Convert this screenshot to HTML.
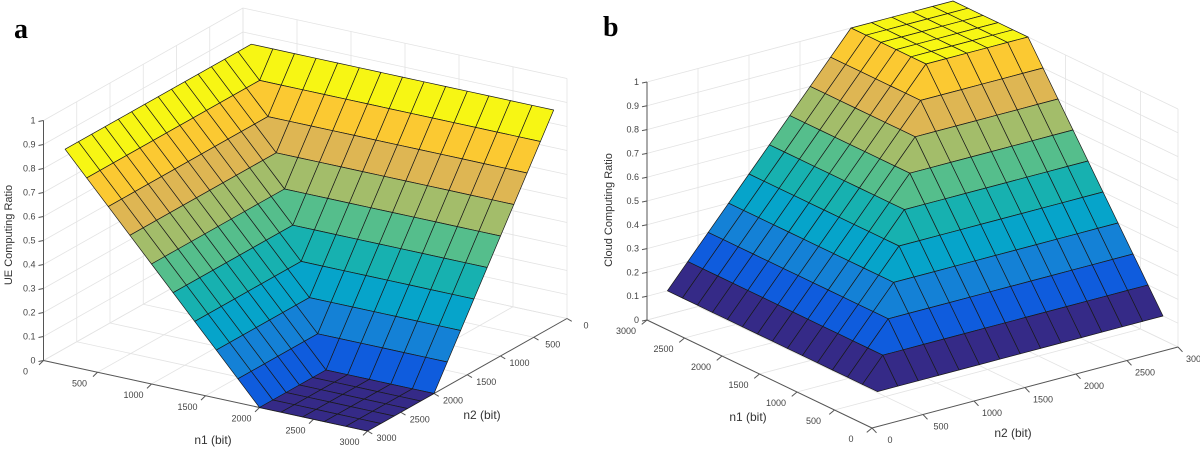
<!DOCTYPE html>
<html><head><meta charset="utf-8"><style>
html,body{margin:0;padding:0;background:#fff;}
svg{display:block;font-family:"Liberation Sans",sans-serif;}
</style></head><body>
<svg id="fig" width="1200" height="449" viewBox="0 0 1200 449" xmlns="http://www.w3.org/2000/svg">
<text x="14" y="38" font-family="Liberation Serif,serif" font-weight="bold" font-size="28">a</text>
<text x="603" y="36" font-family="Liberation Serif,serif" font-weight="bold" font-size="28">b</text>
<g id="ga"></g>
<g id="gb"></g>
</svg>
<script>
// grid values (bits)
const nValues = [200,400,600,800,1000,1200,1400,1600,1800,2000,2200,2400,2600,2800,3000];
// UE ratio profile vs min(n1,n2) index
const ueProfile = [0.9,0.8,0.7,0.6,0.5,0.4,0.3,0.2,0.1,0,0,0,0,0,0];
// Cloud ratio profile vs min(n1,n2) index
const cloudProfile = [0.1,0.2,0.3,0.4,0.5,0.6,0.7,0.8,0.9,1,1,1,1,1,1];
const axisTicks = [0,500,1000,1500,2000,2500,3000];
const zTicks = [0,0.1,0.2,0.3,0.4,0.5,0.6,0.7,0.8,0.9,1];
const parula = ['#352a87','#0f5cdd','#1481d6','#06a4ca','#17b1b0','#55be8c','#a3bd6a','#deb653','#fbc932','#f7f614'];

const NS='http://www.w3.org/2000/svg';
function mk(parent,tag,attrs){const e=document.createElementNS(NS,tag);for(const k in attrs)e.setAttribute(k,attrs[k]);parent.appendChild(e);return e;}

function projA(n1,n2,z){return [243+n1*0.108-n2*0.0665, 248+n1*0.0235+n2*0.0375-240*z];}
function projB(n1,n2,z){return [872-n1*0.075+n2*0.102, 428-n1*0.036-n2*0.027-238*z];}

function line(g,P,a,b,stroke,w,name){
  const p=P(...a),q=P(...b);
  const l=mk(g,'line',{x1:p[0],y1:p[1],x2:q[0],y2:q[1],stroke:stroke,'stroke-width':w});
  
  
}
function label(g,x,y,txt,anchor,size,name,fill){
  const t=mk(g,'text',{x:x,y:y,'text-anchor':anchor,'font-size':size,fill:fill||'#444'});
  t.textContent=txt;
  
  
  return t;
}

function drawChart(g,P,cfg,profile,useMax,zlo,zhi){
  const gc='#e3e3e3';
  for(const z of zTicks){
    line(g,P,[cfg.w1a[0],cfg.w1a[1],z],[cfg.corner[0],cfg.corner[1],z],gc,0.8,'wall-gridline');
    line(g,P,[cfg.corner[0],cfg.corner[1],z],[cfg.w2b[0],cfg.w2b[1],z],gc,0.8,'wall-gridline');
  }
  for(const t of axisTicks){
    line(g,P,[cfg.w1a[0],t,0],[cfg.w1a[0],t,1],gc,0.8,'wall-gridline');
    line(g,P,[t,cfg.w2b[1],0],[t,cfg.w2b[1],1],gc,0.8,'wall-gridline');
    line(g,P,[t,0,0],[t,3000,0],gc,0.8,'floor-gridline');
    line(g,P,[0,t,0],[3000,t,0],gc,0.8,'floor-gridline');
  }
  const ac='#555';
  line(g,P,[cfg.zax[0],cfg.zax[1],0],[cfg.zax[0],cfg.zax[1],1],ac,1,'z-axis');
  line(g,P,[0,cfg.n1y,0],[3000,cfg.n1y,0],ac,1,'n1-axis');
  line(g,P,[cfg.n2x,0,0],[cfg.n2x,3000,0],ac,1,'n2-axis');
  for(const z of zTicks){
    const p=P(cfg.zax[0],cfg.zax[1],z);
    const l=mk(g,'line',{x1:p[0]-5,y1:p[1]+1,x2:p[0],y2:p[1],stroke:ac,'stroke-width':1});
    
    
    label(g,p[0]-8,p[1]+3,String(z),'end',9,'z-tick-label');
  }
  for(const t of axisTicks){
    const p=P(t,cfg.n1y,0);
    const l=mk(g,'line',{x1:p[0],y1:p[1],x2:p[0]+cfg.n1off[0]*0.25,y2:p[1]+cfg.n1off[1]*0.4,stroke:ac,'stroke-width':1});
    
    
    label(g,p[0]+cfg.n1off[0],p[1]+cfg.n1off[1]+3,String(t),'middle',9,'n1-tick-label');
    const q=P(cfg.n2x,t,0);
    const l2=mk(g,'line',{x1:q[0],y1:q[1],x2:q[0]+cfg.n2off[0]*0.25,y2:q[1]+cfg.n2off[1]*0.4,stroke:ac,'stroke-width':1});
    
    
    label(g,q[0]+cfg.n2off[0],q[1]+cfg.n2off[1]+3,String(t),'middle',9,'n2-tick-label');
  }
  const cells=[];
  const N=nValues.length;
  const zf=(i,j)=>profile[Math.min(i,j)];
  for(let i=0;i<N-1;i++)for(let j=0;j<N-1;j++){
    const zs=[zf(i,j),zf(i+1,j),zf(i+1,j+1),zf(i,j+1)];
    cells.push({i,j,zs,d:nValues[i]+nValues[j]});
  }
  cells.sort((a,b)=>cfg.farFirst*(a.d-b.d));
  for(const c of cells){
    const idx=[[c.i,c.j],[c.i+1,c.j],[c.i+1,c.j+1],[c.i,c.j+1]];
    const pts=idx.map((ij,k)=>P(nValues[ij[0]],nValues[ij[1]],c.zs[k]).map(v=>v.toFixed(1)).join(',')).join(' ');
    const zsel=useMax?Math.max(...c.zs):Math.min(...c.zs);
    let lv=Math.round((zsel-zlo)/(zhi-zlo)*9);lv=Math.max(0,Math.min(9,lv));
    const poly=mk(g,'polygon',{points:pts,fill:parula[lv],stroke:'#1a1a1a','stroke-width':0.7,'stroke-linejoin':'round'});
    
    
  }
}

const ga=document.getElementById('ga');
drawChart(ga,projA,{w1a:[0,3000],corner:[0,0],w2b:[3000,0],zax:[0,3000],n1y:3000,n2x:3000,n1off:[-18,11],n2off:[19,7],farFirst:1},ueProfile,true,0,0.9);
label(ga,213,444,'n1 (bit)','middle',12,'n1-axis-title','#333');
label(ga,482,419,'n2 (bit)','middle',12,'n2-axis-title','#333');
const ta=label(ga,0,0,'UE Computing Ratio','middle',11,'y-axis-title','#333');
ta.setAttribute('transform','translate(12,235) rotate(-90)');

const gb=document.getElementById('gb');
drawChart(gb,projB,{w1a:[3000,0],corner:[3000,3000],w2b:[0,3000],zax:[3000,0],n1y:0,n2x:0,n1off:[-21,11],n2off:[18,12],farFirst:-1},cloudProfile,false,0.1,1);
label(gb,748,421,'n1 (bit)','middle',12,'n1-axis-title','#333');
label(gb,1013,437,'n2 (bit)','middle',12,'n2-axis-title','#333');
const tb=label(gb,0,0,'Cloud Computing Ratio','middle',11,'y-axis-title','#333');
tb.setAttribute('transform','translate(612,210) rotate(-90)');
</script>
</body></html>
